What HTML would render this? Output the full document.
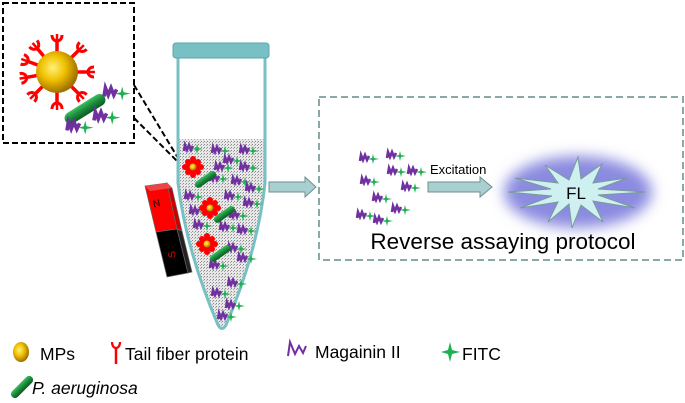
<!DOCTYPE html>
<html><head><meta charset="utf-8"><style>
html,body{margin:0;padding:0;background:#fff;}
svg{display:block;font-family:"Liberation Sans",sans-serif;}
</style></head><body>
<svg width="685" height="403" viewBox="0 0 685 403" xmlns="http://www.w3.org/2000/svg">
<defs>
<radialGradient id="gold" cx="0.4" cy="0.4" r="0.6"><stop offset="0" stop-color="#fff27a"/><stop offset="0.5" stop-color="#f0c000"/><stop offset="1" stop-color="#a07000"/></radialGradient>
<linearGradient id="bac" x1="0" y1="0" x2="0" y2="1"><stop offset="0" stop-color="#3fbf60"/><stop offset="0.5" stop-color="#1a8a3a"/><stop offset="1" stop-color="#0b5a22"/></linearGradient>
<pattern id="dots" width="3" height="3" patternUnits="userSpaceOnUse"><rect width="3" height="3" fill="#e8e8e8"/><rect width="1" height="1" fill="#888"/><rect x="2" y="1" width="1" height="1" fill="#aaa"/></pattern>
<filter id="blur" x="-50%" y="-50%" width="200%" height="200%"><feGaussianBlur stdDeviation="7"/></filter>
<g id="pep"><polyline points="0,6 1,0 3,5 5,0 7,5 9,1" fill="none" stroke="#7030a0" stroke-width="2.6"/><path d="M13,-1 L14,3 L19,4 L14,5 L13,9 L12,5 L8,4 L12,3Z" fill="#1eb050"/></g>
<g id="tf"><line x1="0" y1="0" x2="0" y2="-12" stroke="#f00" stroke-width="3.5"/><path d="M-5,-19 C-5,-11 5,-11 5,-19" fill="none" stroke="#f00" stroke-width="3"/><line x1="0" y1="-12" x2="0" y2="-20" stroke="#f00" stroke-width="2.5"/></g>
<g id="mp"><circle r="7" fill="#f00"/><circle cx="-5" cy="-5" r="3" fill="#f00"/><circle cx="5" cy="-5" r="3" fill="#f00"/><circle cx="-5" cy="5" r="3" fill="#f00"/><circle cx="5" cy="5" r="3" fill="#f00"/><circle cx="0" cy="-8" r="3" fill="#f00"/><circle cx="-8" cy="0" r="3" fill="#f00"/><circle cx="8" cy="0" r="3" fill="#f00"/><circle cx="0" cy="8" r="3" fill="#f00"/><circle r="3.5" fill="url(#gold)"/></g>
</defs>

<rect x="3" y="3" width="131" height="140" fill="#fff" stroke="#000" stroke-width="2" stroke-dasharray="6,3"/>
<line x1="134" y1="85" x2="178" y2="158" stroke="#000" stroke-width="2" stroke-dasharray="6,3"/>
<line x1="134" y1="118" x2="180" y2="164" stroke="#000" stroke-width="2" stroke-dasharray="6,3"/>
<g transform="translate(57,72)">
<use href="#tf" transform="rotate(0) translate(0,-18)"/>
<use href="#tf" transform="rotate(45) translate(0,-18)"/>
<use href="#tf" transform="rotate(90) translate(0,-18)"/>
<use href="#tf" transform="rotate(135) translate(0,-18)"/>
<use href="#tf" transform="rotate(180) translate(0,-18)"/>
<use href="#tf" transform="rotate(225) translate(0,-18)"/>
<use href="#tf" transform="rotate(260) translate(0,-18)"/>
<use href="#tf" transform="rotate(290) translate(0,-18)"/>
<use href="#tf" transform="rotate(320) translate(0,-18)"/>
<circle r="21" fill="url(#gold)"/>
</g>
<rect x="62" y="103" width="46" height="12" rx="6" fill="url(#bac)" transform="rotate(-32 85 109)"/>
<use href="#pep" transform="translate(104,88) scale(1.4)"/>
<use href="#pep" transform="translate(94,112) scale(1.4)"/>
<use href="#pep" transform="translate(67,122) scale(1.4)"/>

<path d="M179,139 L264,139 L264,183 Q258,250 226,325 Q222,332 218,325 Q186,250 179,183Z" fill="url(#dots)"/>
<path d="M178,58 L178,183 Q186,250 218,325 Q222,332 226,325 Q258,250 265,183 L265,58" fill="none" stroke="#78c0c4" stroke-width="3"/>
<rect x="173" y="43" width="96" height="15" rx="3" fill="#78c0c4" stroke="#5aa8ac"/>
<use href="#pep" transform="translate(184,145)"/><use href="#pep" transform="translate(212,147)"/><use href="#pep" transform="translate(240,147)"/>
<use href="#pep" transform="translate(224,157)"/><use href="#pep" transform="translate(240,164)"/><use href="#pep" transform="translate(215,164)"/>
<use href="#pep" transform="translate(210,175)"/><use href="#pep" transform="translate(232,178)"/><use href="#pep" transform="translate(246,185)"/>
<use href="#pep" transform="translate(185,193)"/><use href="#pep" transform="translate(225,193)"/><use href="#pep" transform="translate(244,200)"/>
<use href="#pep" transform="translate(190,208)"/><use href="#pep" transform="translate(230,212)"/><use href="#pep" transform="translate(194,222)"/>
<use href="#pep" transform="translate(220,224)"/><use href="#pep" transform="translate(238,227)"/><use href="#pep" transform="translate(228,245)"/>
<use href="#pep" transform="translate(238,255)"/><use href="#pep" transform="translate(210,262)"/><use href="#pep" transform="translate(228,280)"/>
<use href="#pep" transform="translate(212,290)"/><use href="#pep" transform="translate(226,302)"/><use href="#pep" transform="translate(218,313)"/>
<use href="#mp" transform="translate(193,167)"/><rect x="193" y="176" width="24" height="7" rx="3.5" fill="url(#bac)" transform="rotate(-35 205 179)"/>
<use href="#mp" transform="translate(210,208)"/><rect x="212" y="211" width="24" height="7" rx="3.5" fill="url(#bac)" transform="rotate(-35 224 214)"/>
<use href="#mp" transform="translate(207,244)"/><rect x="208" y="250" width="24" height="7" rx="3.5" fill="url(#bac)" transform="rotate(-35 220 253)"/>

<polygon points="145,186 167,183 177,229 156,232" fill="#f00" stroke="#666" stroke-width="0.7"/>
<polygon points="167,183 172,188 182,231 177,229" fill="#c00" stroke="#666" stroke-width="0.7"/>
<polygon points="145,186 167,183 172,188 150,191" fill="#e44"/>
<polygon points="156,232 177,229 188,273 167,277" fill="#000" stroke="#666" stroke-width="0.7"/>
<polygon points="177,229 182,231 192,272 188,273" fill="#222" stroke="#666" stroke-width="0.7"/>
<text x="160" y="205" font-size="10" transform="rotate(166 160 202)" fill="#000">N</text>
<text x="172" y="262" font-size="10" fill="#e00" transform="rotate(-104 172 258)">S</text>

<polygon points="269,182 305,182 305,177 316,187 305,197 305,192 269,192" fill="#a8d0d0" stroke="#6f8f8f"/>

<rect x="319" y="97" width="364" height="163" fill="none" stroke="#8aa8a8" stroke-width="2" stroke-dasharray="7,4"/>
<use href="#pep" transform="translate(360,155)"/><use href="#pep" transform="translate(387,152)"/>
<use href="#pep" transform="translate(388,168)"/><use href="#pep" transform="translate(408,168)"/>
<use href="#pep" transform="translate(361,178)"/><use href="#pep" transform="translate(402,184)"/>
<use href="#pep" transform="translate(373,195)"/><use href="#pep" transform="translate(392,206)"/>
<use href="#pep" transform="translate(357,212)"/><use href="#pep" transform="translate(374,217)"/>
<text x="430" y="174" font-size="13">Excitation</text>
<polygon points="428,182 480,182 480,177 492,187 480,197 480,192 428,192" fill="#a8d0d0" stroke="#6f8f8f"/>
<ellipse cx="578" cy="192" rx="74" ry="36" fill="#8a8ae0" filter="url(#blur)"/>
<polygon points="645,192 598,189 627,178 593,183 602,164 581,179 578,157 569,180 545,165 558,183 515,178 551,189 508,192 552,196 520,208 558,202 548,222 569,204 572,228 581,205 603,222 593,201 635,208 598,195" fill="#cff0f0" stroke="#7a9a9a"/>
<text x="576" y="199" font-size="17" text-anchor="middle">FL</text>
<text x="503" y="249" font-size="22.5" text-anchor="middle">Reverse assaying protocol</text>

<ellipse cx="21" cy="352" rx="8" ry="10" fill="url(#gold)"/>
<text x="40" y="360" font-size="17.5">MPs</text>
<g transform="translate(116,364)"><line x1="0" y1="0" x2="0" y2="-16" stroke="#f00" stroke-width="2.5"/><path d="M-4,-22 C-4,-14 4,-14 4,-22" fill="none" stroke="#f00" stroke-width="2.2"/></g>
<text x="125" y="360" font-size="17.5">Tail fiber protein</text>
<polyline points="288,356 290,342 295,354 299,346 303,353 306,346" fill="none" stroke="#7030a0" stroke-width="2"/>
<text x="315" y="358" font-size="17.5">Magainin II</text>
<path d="M450,342 L452,350 L460,352 L452,354 L450,362 L448,354 L441,352 L448,350Z" fill="#1eb050"/>
<text x="462" y="360" font-size="17.5">FITC</text>
<rect x="8" y="383" width="28" height="8" rx="4" fill="url(#bac)" transform="rotate(-45 22 387)"/>
<text x="32" y="394" font-size="17.5" font-style="italic">P. aeruginosa</text>
</svg>
</body></html>
